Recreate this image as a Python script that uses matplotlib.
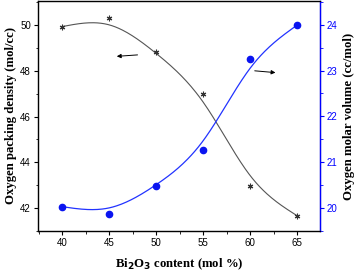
import numpy as np
import matplotlib.pyplot as plt
from matplotlib.ticker import MultipleLocator

# Bi2O3 content (mol %)
bi2o3 = [40, 45, 50, 55, 60, 65]
# Oxygen packing density (mol/cc)
opd = [49.93, 50.32, 48.80, 47.00, 42.97, 41.67]
# Oxygen molar volume (cc/mol)
omv = [20.03, 19.88, 20.48, 21.27, 23.26, 23.99]


def bspline(px, py, n=40):
    """Uniform cubic B-spline with the data as control points (phantom ends)."""
    P = np.column_stack([px, py]).astype(float)
    P = np.vstack([2 * P[0] - P[1], P, 2 * P[-1] - P[-2]])
    u = np.linspace(0, 1, n)
    b = np.column_stack([(1 - u) ** 3,
                         3 * u ** 3 - 6 * u ** 2 + 4,
                         -3 * u ** 3 + 3 * u ** 2 + 3 * u + 1,
                         u ** 3]) / 6
    segs = [b @ P[i:i + 4] for i in range(len(P) - 3)]
    out = np.vstack(segs)
    return out[:, 0], out[:, 1]


fig = plt.figure(figsize=(3.57, 2.72), dpi=100)
ax = fig.add_axes([0.1064, 0.1507, 0.79, 0.846])
ax2 = ax.twinx()
plt.rcParams['mathtext.fontset'] = 'custom'
plt.rcParams['mathtext.bf'] = 'Liberation Serif:bold'

bx, by = bspline(bi2o3, opd)
gx, gy = bspline(bi2o3, omv)

ax.plot(bx, by, color='#555555', lw=0.8)
ax.plot(bi2o3, opd, linestyle='none', marker=(6, 2, 0), ms=4, mew=0.8, color='#333333')
ax2.plot(gx, gy, color='#2233ff', lw=0.9)
ax2.plot(bi2o3, omv, linestyle='none', marker='o', ms=4.5, color='#0a14f0')

ax.set_xlim(37.4, 67.45)
ax.set_ylim(41.0, 51.05)
ax2.set_ylim(19.5, 24.52)

ax.xaxis.set_major_locator(MultipleLocator(5))
ax.xaxis.set_minor_locator(MultipleLocator(2.5))
ax.yaxis.set_major_locator(MultipleLocator(2))
ax.yaxis.set_minor_locator(MultipleLocator(1))
ax2.yaxis.set_major_locator(MultipleLocator(1))
ax2.yaxis.set_minor_locator(MultipleLocator(0.5))

for a in (ax, ax2):
    a.tick_params(which='major', direction='out', length=3, width=0.8, labelsize=7, pad=2)
    a.tick_params(which='minor', direction='out', length=1.8, width=0.6)
    for lab in a.get_xticklabels() + a.get_yticklabels():
        lab.set_fontfamily('Liberation Sans')

ax2.tick_params(axis='y', which='both', colors='#0000ff')
ax2.spines['right'].set_color('#0000ff')
ax2.spines['right'].set_linewidth(1.0)
for s in ('left', 'bottom', 'top'):
    ax.spines[s].set_linewidth(1.0)
    ax.spines[s].set_color('#333333')

labfont = dict(family='Liberation Serif', weight='bold', size=9.2)
ax.set_xlabel('Bi$_\\mathbf{2}$O$_\\mathbf{3}$ content (mol %)', labelpad=6, **labfont)
ax.set_ylabel('Oxygen packing density (mol/cc)', labelpad=2, **labfont)
ax2.set_ylabel('Oxygen molar volume (cc/mol)', labelpad=4, **labfont)

# direction arrows
ax.annotate('', xy=(45.5, 48.62), xytext=(48.3, 48.7),
            arrowprops=dict(arrowstyle='-|>', color='black', lw=0.7, mutation_scale=6))
ax2.annotate('', xy=(63.0, 22.95), xytext=(60.2, 23.0),
             arrowprops=dict(arrowstyle='-|>', color='black', lw=0.7, mutation_scale=6))

fig.savefig('out.png', dpi=100)
